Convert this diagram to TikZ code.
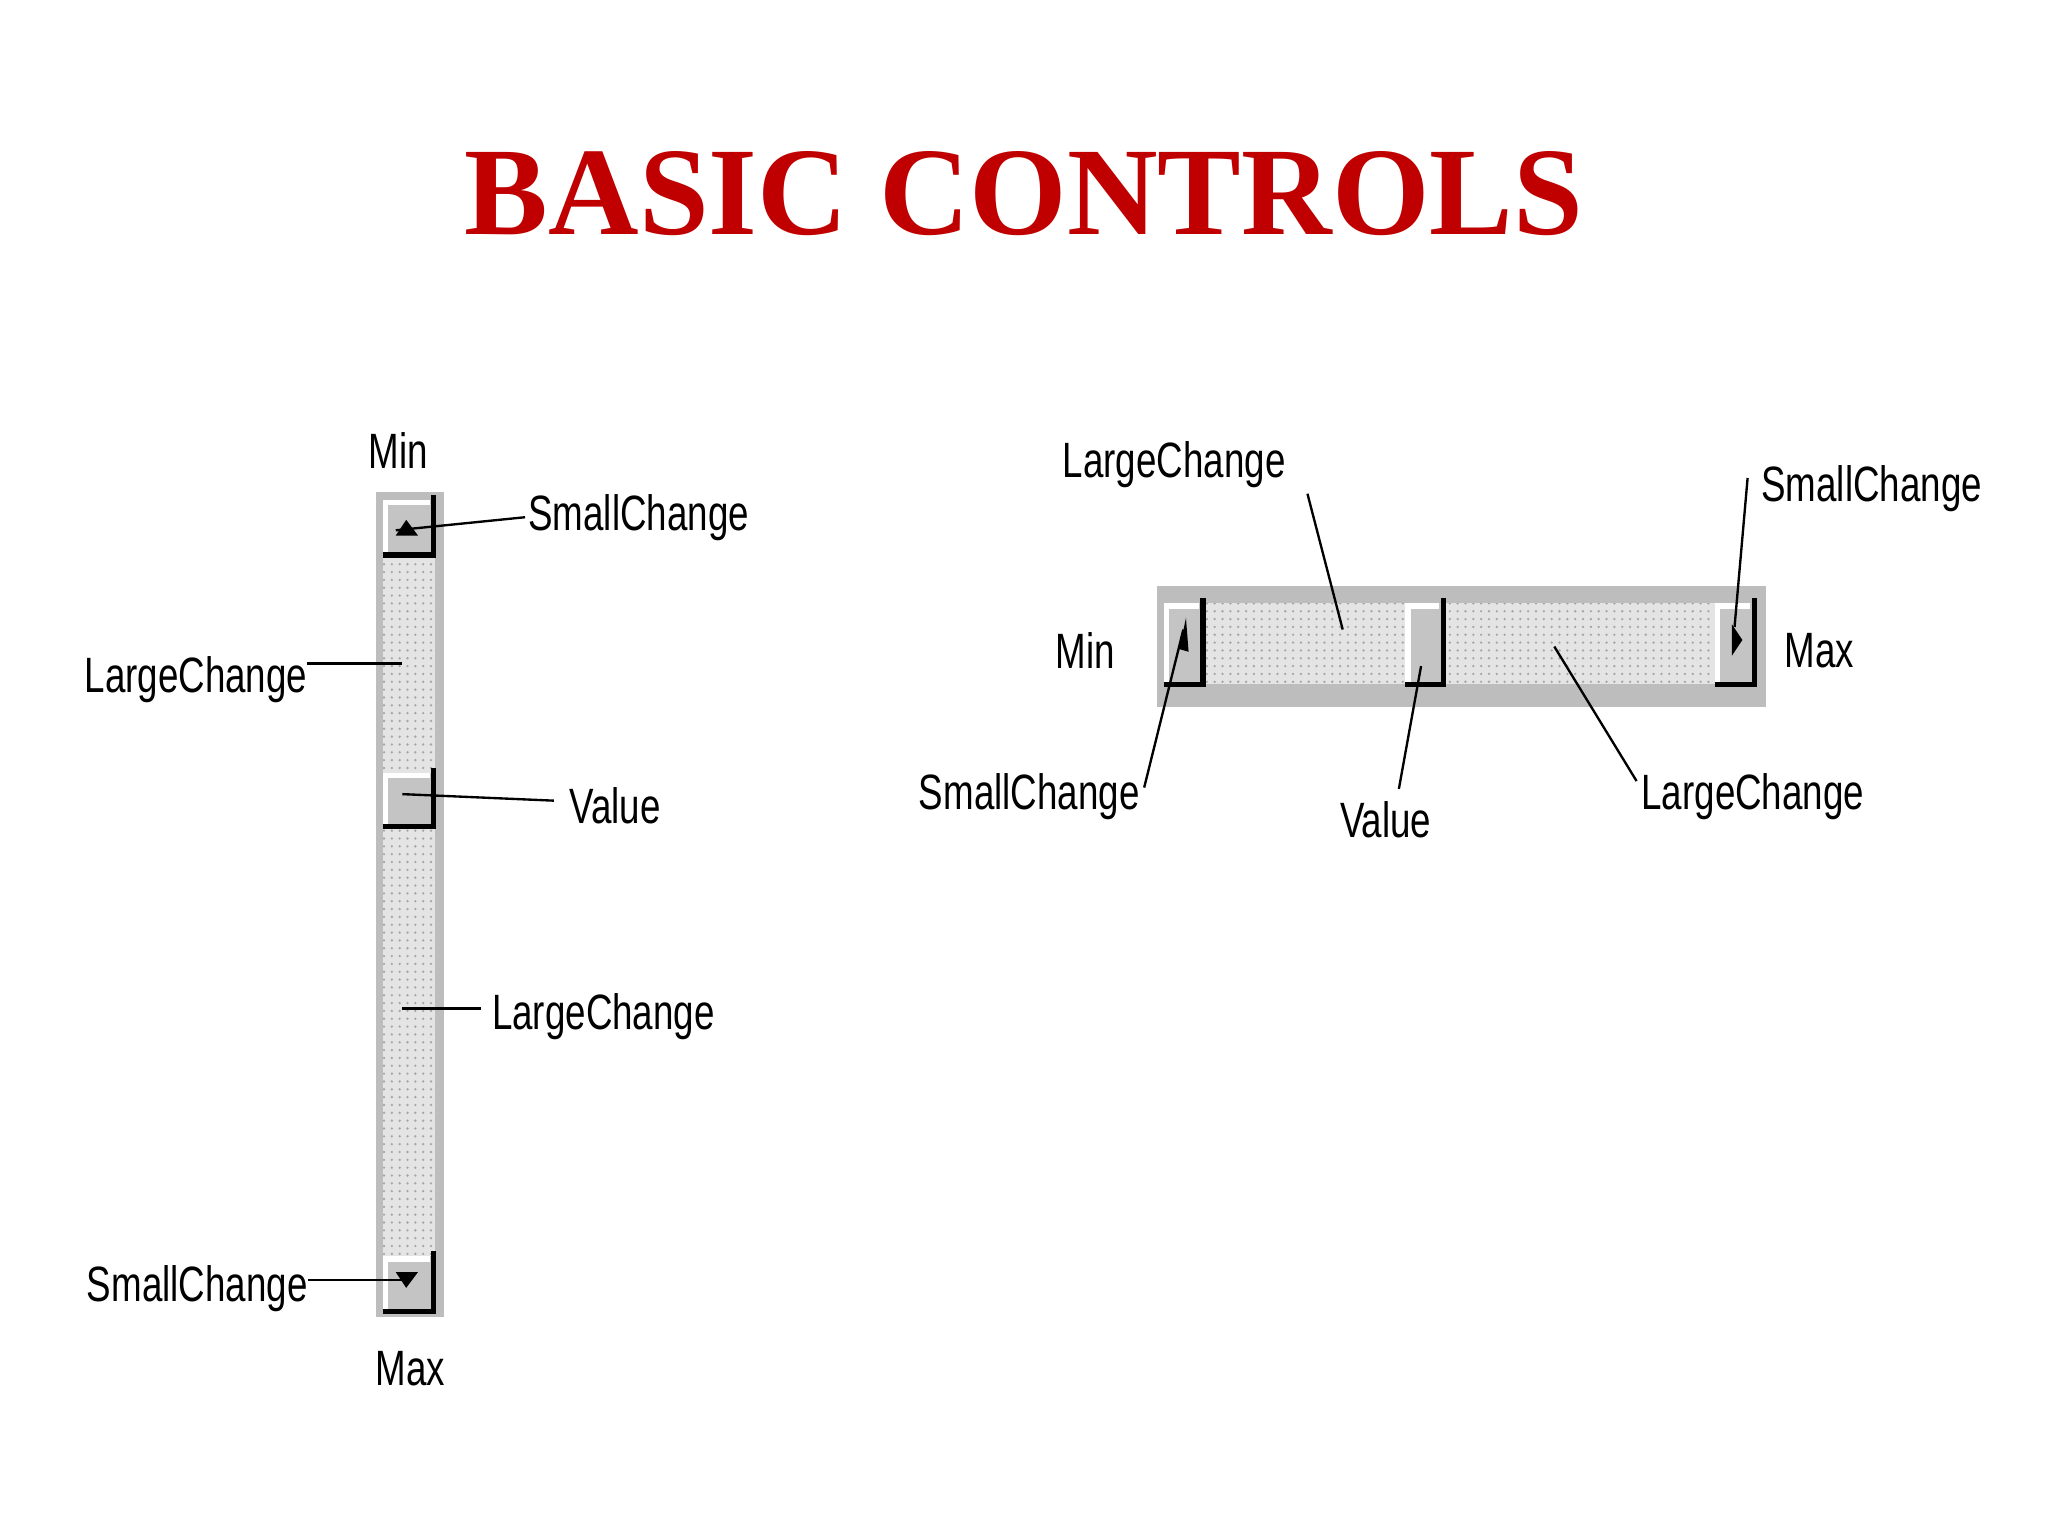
\documentclass[tikz,border=0pt]{standalone}
\usepackage{fontspec}
\setmainfont{Liberation Serif}
\newfontfamily\lab[FakeStretch=0.74]{Liberation Sans}
\usetikzlibrary{patterns}
\definecolor{btn}{HTML}{C4C4C4}
\definecolor{frame}{HTML}{BDBDBD}
\definecolor{trough}{HTML}{E4E4E4}
\definecolor{ttl}{HTML}{C00000}
\tikzset{
 lbl/.style={font=\lab\fontsize{19}{22}\selectfont, inner sep=1pt},
 lead/.style={draw=black, line width=0.9pt},
}
\newcommand{\btn}[4]{% x1 y1 x2 y2
 \fill[btn] (#1,#2) rectangle (#3,#4);
 \draw[white, line width=2pt] (#1+2,#4-2) -- (#1+2,#2+2) -- (#3-3,#2+2);
 \draw[black, line width=2pt] (#1,#4) -- (#3,#4) -- (#3,#2-4);
}
\begin{document}
\begin{tikzpicture}[x=0.5pt,y=-0.5pt]
\useasboundingbox (0,0) rectangle (1568,1176);
\fill[white] (0,0) rectangle (1568,1176);
\node[font=\bfseries\fontsize{48}{54}\selectfont, text=ttl] (title) at (784,148) {BASIC CONTROLS};
% vertical scrollbar
\fill[frame] (288,377) rectangle (340,1008);
\fill[trough] (293,426) rectangle (333,962);
\fill[pattern=dots, pattern color=gray!70] (293,426) rectangle (333,962);
\btn{293}{383}{332}{425}
\btn{293}{592}{332}{633}
\btn{293}{962}{332}{1004}
\fill (303,410) -- (320,410) -- (311,398) -- cycle;
\fill (303,974) -- (320,974) -- (311,986) -- cycle;
% horizontal scrollbar
\fill[frame] (886,449) rectangle (1352,541);
\fill[trough] (921,462) rectangle (1313,524);
\fill[pattern=dots, pattern color=gray!70] (921,462) rectangle (1313,524);
\btn{891}{462}{921}{524}
\btn{1076}{462}{1105}{524}
\btn{1313}{462}{1343}{524}
\fill (903,497) -- (908,473) -- (910,499) -- cycle;
\fill (1326,478) -- (1326,502) -- (1334,490) -- cycle;
% coordinates
\coordinate (a1) at (303,406);
\coordinate (a2) at (308,508);
\coordinate (a3) at (308,608);
\coordinate (a4) at (308,772);
\coordinate (a5) at (310,980);
\coordinate (b1) at (1028,482);
\coordinate (b2) at (1328,480);
\coordinate (b3) at (906,482);
\coordinate (b4) at (1088,510);
\coordinate (b5) at (1190,495);
% labels left
\node[lbl] (vmin) at (305,345) {Min};
\node[lbl] (vsc1) at (489,396) {SmallChange};
\node[lbl] (vlc1) at (150,520) {LargeChange};
\node[lbl] (vval) at (471,617) {Value};
\node[lbl] (vlc2) at (462,778) {LargeChange};
\node[lbl] (vsc2) at (151,987) {SmallChange};
\node[lbl] (vmax) at (314,1048) {Max};
\draw[lead] (402,396) -- (a1);
\draw[lead] (235,508) -- (a2);
\draw[lead] (424,613) -- (a3);
\draw[lead] (368,772) -- (a4);
\draw[lead] (236,980) -- (a5);
% labels right
\node[lbl] (hlc1) at (899,356) {LargeChange};
\node[lbl] (hsc1) at (1433,374) {SmallChange};
\node[lbl] (hmin) at (831,498) {Min};
\node[lbl] (hmax) at (1393,498) {Max};
\node[lbl] (hsc2) at (788,610) {SmallChange};
\node[lbl] (hval) at (1061,628) {Value};
\node[lbl] (hlc2) at (1342,610) {LargeChange};
\draw[lead] (1001,378) -- (b1);
\draw[lead] (1338,366) -- (b2);
\draw[lead] (876,603) -- (b3);
\draw[lead] (1071,604) -- (b4);
\draw[lead] (1253,598) -- (b5);
\end{tikzpicture}
\end{document}
